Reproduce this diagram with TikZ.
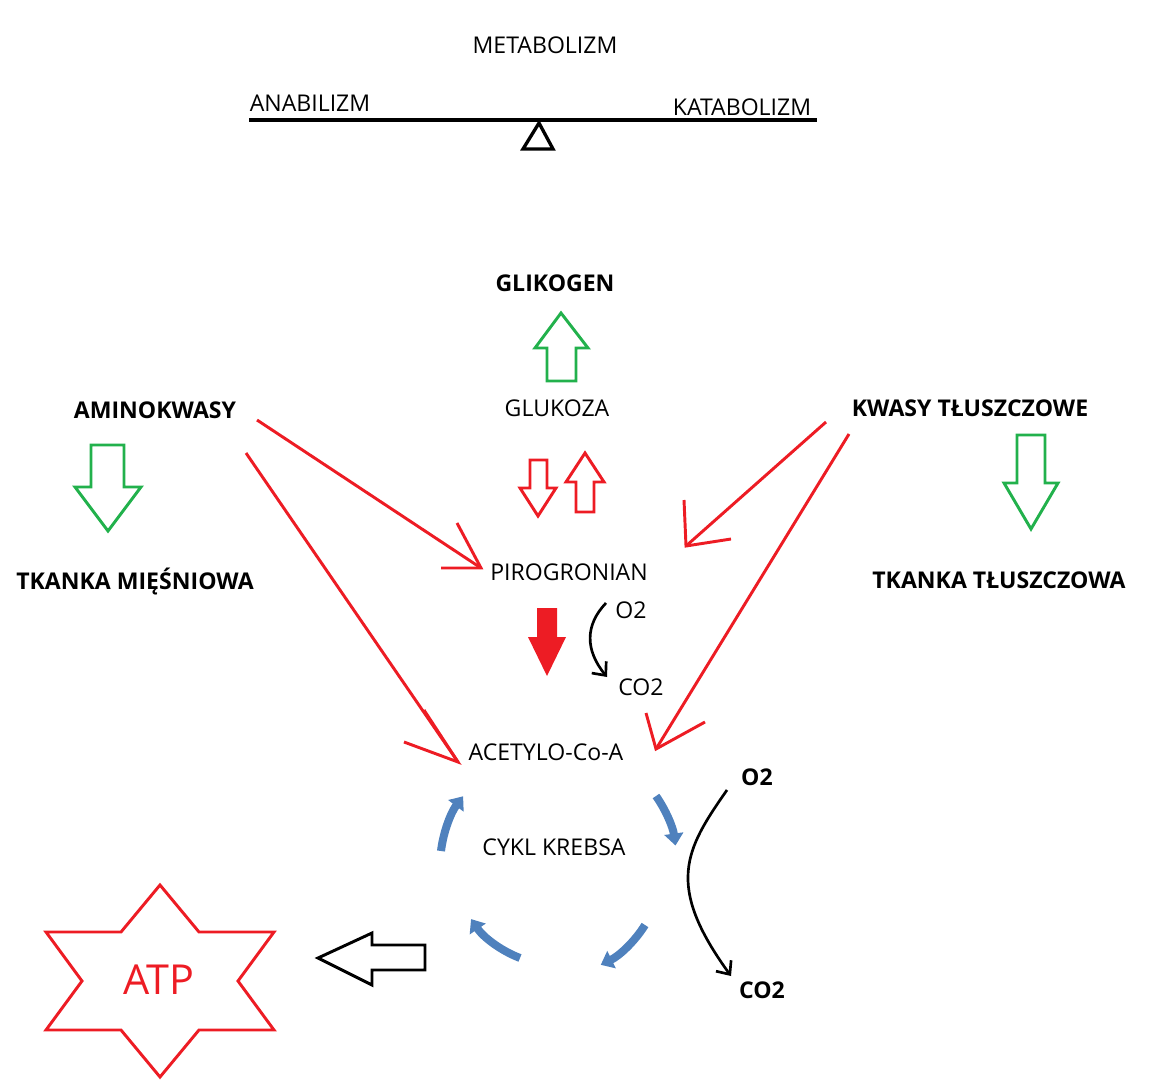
\documentclass[tikz,border=0pt]{standalone}
\usepackage{fontspec}
\setmainfont{Open Sans}
\usetikzlibrary{arrows.meta}
\definecolor{gr}{RGB}{34,177,76}
\definecolor{rd}{RGB}{237,28,36}
\definecolor{bl}{RGB}{79,129,189}
\begin{document}
\begin{tikzpicture}[x=0.75pt,y=-0.75pt,
 lbl/.style={font=\fontsize{17.3}{20}\selectfont},
 blbl/.style={font=\bfseries\fontsize{17.3}{20}\selectfont},
 hol/.style={line width=2.2pt,line join=miter},
 rl/.style={rd,line width=2.2pt},
 ba/.style={bl,line width=6pt,-{Triangle[length=9pt,width=14pt]}},
 ca/.style={black,line width=2pt,-{Straight Barb[length=8pt,width=14pt]}}]
\useasboundingbox (0,0) rectangle (1152,1080);
\node[lbl] (met) at (545,45) {METABOLIZM};
\node[lbl] (ana) at (310,103) {ANABILIZM};
\node[lbl] (kat) at (742,107) {KATABOLIZM};
\draw[line width=2.5pt] (249,120) -- (817,120);
\draw[line width=2.5pt] (523,149) -- (539,123) -- (553,149) -- cycle;
\node[blbl] (gli) at (555,283) {GLIKOGEN};
\node[lbl] (glu) at (557,408) {GLUKOZA};
\node[blbl] (ami) at (155,410) {AMINOKWASY};
\node[blbl] (tkm) at (135,582) {TKANKA MIĘŚNIOWA};
\node[blbl] (kwa) at (970,408) {KWASY TŁUSZCZOWE};
\node[blbl] (tkt) at (999,580) {TKANKA TŁUSZCZOWA};
\node[lbl] (pir) at (569,572) {PIROGRONIAN};
\node[lbl] (o2a) at (631,610) {O2};
\node[lbl] (co2a) at (641,687) {CO2};
\node[lbl] (ace) at (546,752) {ACETYLO-Co-A};
\node[lbl] (kre) at (554,847) {CYKL KREBSA};
\node[blbl] (o2b) at (757,777) {O2};
\node[blbl] (co2b) at (762,990) {CO2};
% green hollow arrows
\draw[hol,gr] (547,381) -- (547,348) -- (535,348) -- (561,313) -- (588,348) -- (576,348) -- (576,381) -- cycle;
\draw[hol,gr] (91,445) -- (124,445) -- (124,487) -- (141,487) -- (108,531) -- (75,487) -- (91,487) -- cycle;
\draw[hol,gr] (1017,435) -- (1045,435) -- (1045,483) -- (1058,483) -- (1031,529) -- (1004,483) -- (1017,483) -- cycle;
% red hollow small arrows
\draw[hol,rd] (530,460) -- (547,460) -- (547,488) -- (556,488) -- (538,516) -- (520,488) -- (530,488) -- cycle;
\draw[hol,rd] (576,512) -- (594,512) -- (594,482) -- (604,482) -- (585,453) -- (566,482) -- (576,482) -- cycle;
% red filled arrow
\fill[rd] (537,608) -- (557,608) -- (557,637) -- (566,637) -- (547,676) -- (528,637) -- (537,637) -- cycle;
% red line arrows
\coordinate (a1) at (257,420); \coordinate (t1) at (481,568);
\draw[rl] (a1) -- (t1); \draw[rl] (457,523) -- (t1) -- (441,568);
\coordinate (a2) at (246,453); \coordinate (t2) at (458,762);
\draw[rl] (a2) -- (t2); \draw[rl] (424,710) -- (t2) -- (404,742);
\coordinate (a3) at (826,422); \coordinate (t3) at (686,546);
\draw[rl] (a3) -- (t3); \draw[rl] (684,500) -- (t3) -- (731,539);
\coordinate (a4) at (849,434); \coordinate (t4) at (656,749);
\draw[rl] (a4) -- (t4); \draw[rl] (646,713) -- (t4) -- (705,722);
% black curves
\coordinate (c1) at (606,603); \coordinate (c2) at (607,677);
\draw[ca] (c1) .. controls (585,625) and (585,650) .. (c2);
\coordinate (c3) at (727,790); \coordinate (c4) at (731,976);
\draw[ca] (c3) .. controls (685,850) and (665,885) .. (c4);
% blue cycle
\draw[ba] (441,851) arc[start angle=187,end angle=217,radius=114];
\draw[ba] (656,796) arc[start angle=325,end angle=352,radius=114];
\draw[ba] (645,925) arc[start angle=32,end angle=64,radius=108];
\draw[ba] (520,958) arc[start angle=111,end angle=146,radius=104];
% hollow black arrow
\draw[hol,black] (425,945) -- (372,945) -- (372,933) -- (318,958) -- (372,985) -- (372,970) -- (425,970) -- cycle;
% star
\draw[rd,line width=2.2pt] (160,885) -- (199,932) -- (274,932) -- (238,981) -- (274,1030) -- (199,1030) -- (160,1077) -- (121,1030) -- (46,1030) -- (82,981) -- (46,932) -- (121,932) -- cycle;
\node[rd,font=\fontsize{31}{35}\selectfont] (atp) at (159,980) {ATP};
\end{tikzpicture}
\end{document}
